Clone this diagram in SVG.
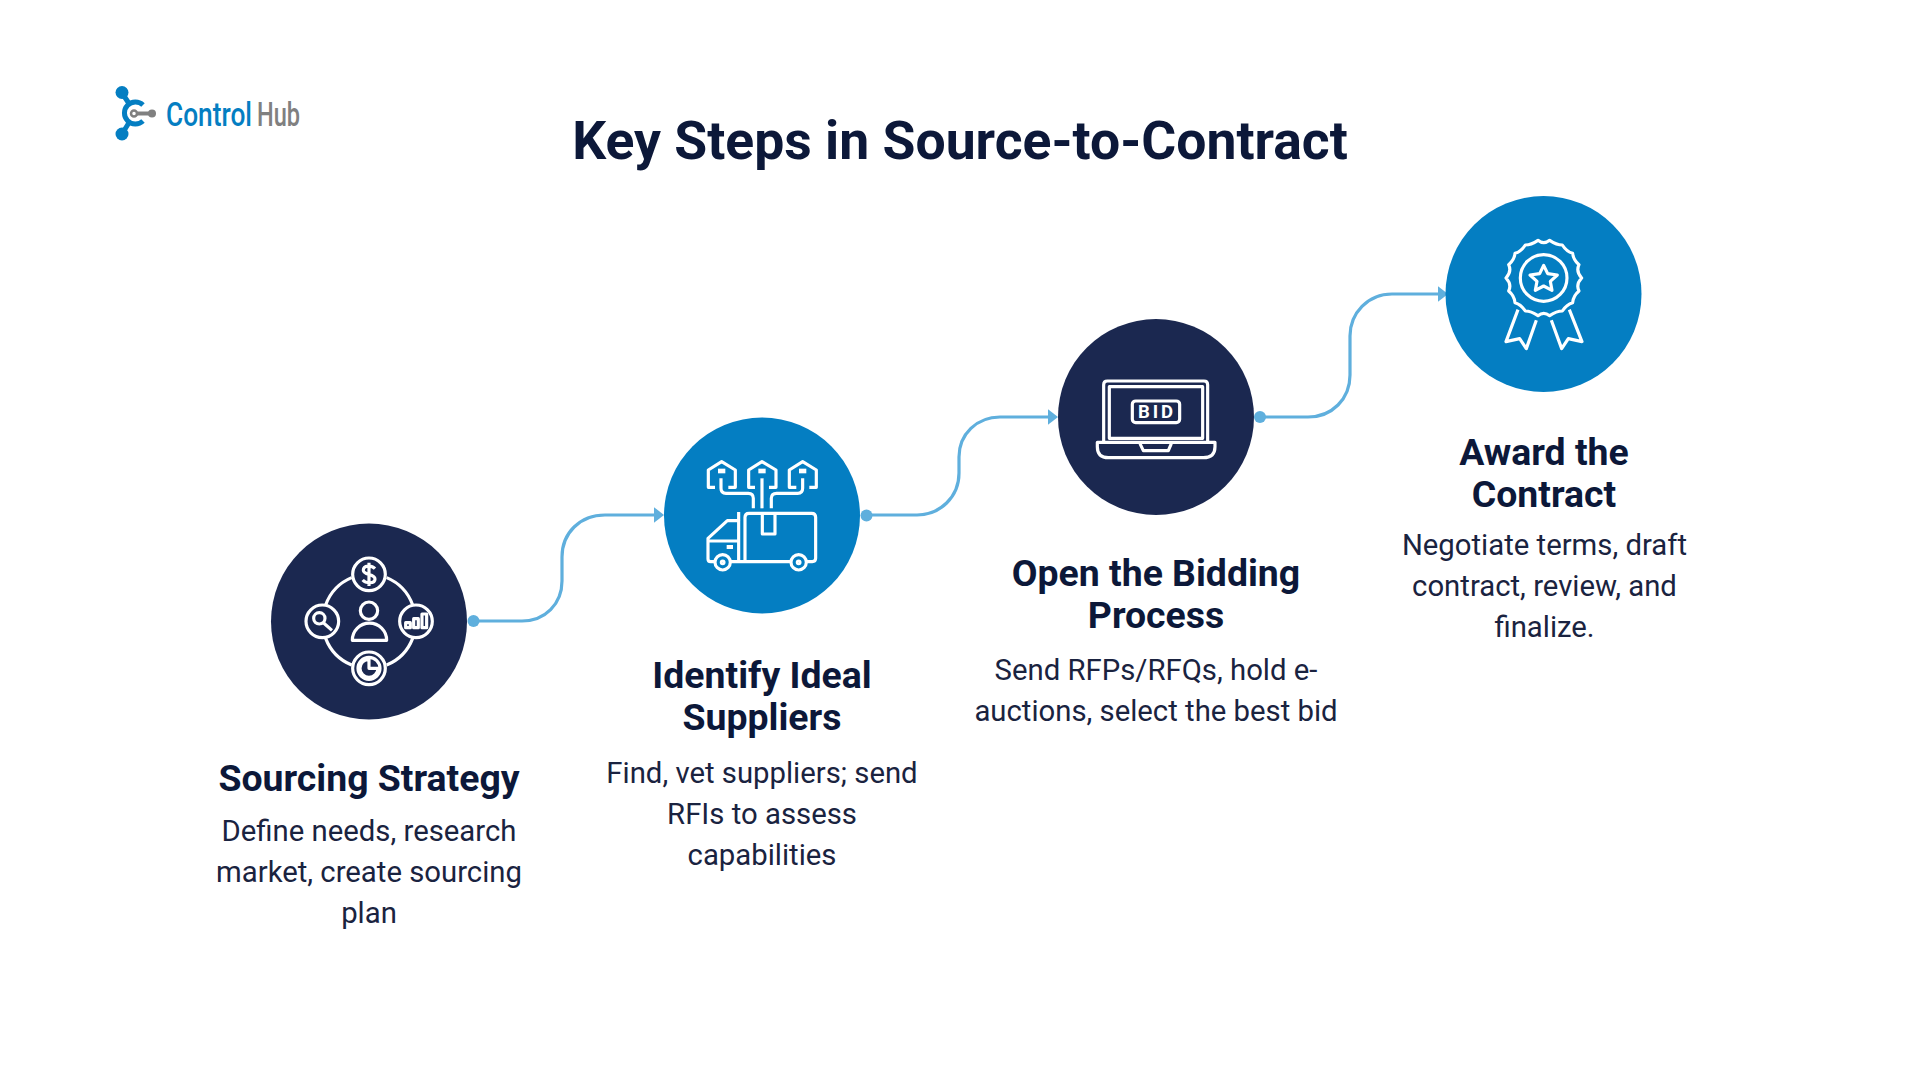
<svg xmlns="http://www.w3.org/2000/svg" width="1920" height="1080" viewBox="0 0 1920 1080">
<style>
text{font-family:Roboto,"Liberation Sans",sans-serif;text-anchor:middle;fill:#0c1839}
.t{font-size:53.500px;font-weight:700}
.h{font-size:37.400px;font-weight:700}
.b{font-size:29.300px;font-weight:400;fill:#1a2340}
.i{fill:none;stroke:#fff;stroke-width:9.500;stroke-linejoin:round;stroke-linecap:butt}
.c{fill:none;stroke:#5fafdd;stroke-width:3.200}
.navy{fill:#1b2850}.blue{fill:#047ec2}
.d{fill:#5fafdd}
.l{text-anchor:start;font-size:34px;font-weight:500}
</style>
<defs><marker id="a" markerWidth="4" markerHeight="5" refX="1" refY="2.500" orient="auto"><path d="M0 0L3.200 2.500L0 5z" fill="#5fafdd"/></marker></defs>
<g id="logo">
<g fill="none" stroke="#047ec2" stroke-width="5"><path d="M143 105A11 11 0 1 0 143 121"/><path d="M122 93L130 105M122 134L130 121"/></g>
<circle cx="122" cy="92.500" r="6.500" fill="#047ec2"/><circle cx="122" cy="134" r="6.500" fill="#047ec2"/>
<path d="M133 113.500H152" stroke="#808080" stroke-width="4"/><circle cx="152" cy="113.500" r="4" fill="#808080"/><circle cx="134" cy="113.500" r="3" fill="#fff" stroke="#808080" stroke-width="2.500"/>
<text class="l" x="166" y="126" textLength="86" lengthAdjust="spacingAndGlyphs" style="fill:#047ec2">Control</text>
<text class="l" x="257" y="126" textLength="43" lengthAdjust="spacingAndGlyphs" style="fill:#808080">Hub</text>
</g>
<text class="t" x="960" y="159">Key Steps in Source-to-Contract</text>
<g id="connectors">
<path class="c" marker-end="url(#a)" d="M473 621H522C545 621 562 604 562 581V557C562 533 580 515 605 515H657"/>
<path class="c" marker-end="url(#a)" d="M866 515H917C940 515 959 497 959 473V457C959 434 977 417 1000 417H1051"/>
<path class="c" marker-end="url(#a)" d="M1260 417H1308C1332 417 1350 399 1350 375V336C1350 313 1368 294 1392 294H1441"/>
<circle class="d" cx="473.500" cy="621" r="6"/><circle class="d" cx="866.500" cy="515.500" r="6"/><circle class="d" cx="1260" cy="417" r="6"/>
</g>
<g id="node1">
<circle class="navy" cx="369" cy="621.500" r="98"/>
<g class="i" transform="translate(260 510) scale(.3333)">
<circle cx="327" cy="193" r="49"/><circle cx="187" cy="334" r="49"/><circle cx="468" cy="334" r="49"/><circle cx="327" cy="475" r="49"/><circle cx="327" cy="475" r="33"/>
<path d="M275 203A141 141 0 0 0 197 285M380 203A141 141 0 0 1 458 285M197 385A141 141 0 0 0 275 465M458 385A141 141 0 0 1 380 465"/>
<circle cx="327" cy="302" r="26"/><path d="M277 391A50 50 0 0 1 380 391Z"/>
<path d="M345 176C335 165 310 165 310 181C310 197 345 190 345 207C345 222 318 221 308 210M327 158V228"/>
<circle cx="178" cy="325" r="17"/><path d="M191 339L216 361"/>
<path d="M327 448A27 27 0 1 0 354 475H327Z"/>
<rect x="437" y="338" width="14" height="15"/><rect x="461" y="326" width="14" height="27"/><rect x="486" y="312" width="14" height="41"/>
</g>
</g>
<g id="node2">
<circle class="blue" cx="762" cy="515.500" r="98"/>
<g class="i" transform="translate(650 410) scale(.3333)">
<path d="M195 232H175V180L215 155L256 180V232H235"/><path d="M204 183H226" stroke-width="14"/>
<path d="M315 232H296V180L336 155L378 180V232H357"/><path d="M325 183H347" stroke-width="14"/>
<path d="M439 232H418V180L458 155L499 180V232H478"/><path d="M447 183H469" stroke-width="14"/>
<path d="M213 205V235Q213 250 228 250H295Q310 250 310 265V295"/>
<path d="M336 205V295"/><path d="M458 205V235Q458 250 443 250H380Q364 250 364 265V295"/>
<path d="M285 455V322Q285 310 297 310H485Q497 310 497 322V445Q497 455 487 455H470M423 455H242M196 455H182Q174 455 174 447V385L232 332H266V455M174 393H266"/>
<path d="M337 310V372H375V310M266 306V332"/>
<circle cx="218" cy="457" r="23"/><circle cx="446" cy="457" r="23"/><circle cx="218" cy="457" r="4"/><circle cx="446" cy="457" r="4"/>
<path d="M230 411H249" stroke-width="12"/>
</g>
</g>
<g id="node3">
<circle class="navy" cx="1156" cy="417" r="98"/>
<g class="i" transform="translate(1050 310) scale(.3333)">
<path d="M161 397V224Q161 213 172 213H462Q473 213 473 224V397"/><path d="M178 385V230H458V385Z"/>
<rect x="247" y="273" width="142" height="65" rx="10"/>
<path d="M142 397H495V410Q495 443 460 443H175Q142 443 142 410Z"/><path d="M270 401L280 422H355L364 401"/>
</g>
<text x="1157" y="418" style="font-size:18.500px;font-weight:700;fill:#fff;letter-spacing:3px">BID</text>
</g>
<g id="node4">
<circle class="blue" cx="1543.500" cy="294" r="98"/>
<g class="i" transform="translate(1440 190) scale(.3333)">
<path d="M294 151Q311 165 329 151Q350 165 367 165Q380 185 398 190Q400 210 417 224Q407 245 425 264Q407 283 417 303Q400 317 398 338Q380 343 367 363Q350 363 329 377Q311 363 294 377Q273 363 256 363Q243 343 225 338Q223 317 206 303Q216 283 198 264Q216 245 206 224Q223 210 225 190Q243 185 256 165Q273 165 294 151Z"/>
<circle cx="311" cy="264" r="70"/>
<path d="M311 226L323 251L352 255L331 274L336 301L311 288L286 301L291 274L270 255L299 251Z"/>
<path d="M234 359L198 455L239 446L259 476L289 391M388 359L426 455L385 446L365 476L334 391"/>
</g>
</g>
<g id="labels">
<text class="h" x="369" y="791">Sourcing Strategy</text>
<text class="b" x="369" y="841">Define needs, research</text><text class="b" x="369" y="882">market, create sourcing</text><text class="b" x="369" y="923">plan</text>
<text class="h" x="762" y="688">Identify Ideal</text><text class="h" x="762" y="730">Suppliers</text>
<text class="b" x="762" y="783">Find, vet suppliers; send</text><text class="b" x="762" y="824">RFIs to assess</text><text class="b" x="762" y="865">capabilities</text>
<text class="h" x="1156" y="586">Open the Bidding</text><text class="h" x="1156" y="628">Process</text>
<text class="b" x="1156" y="680">Send RFPs/RFQs, hold e-</text><text class="b" x="1156" y="721">auctions, select the best bid</text>
<text class="h" x="1544" y="465">Award the</text><text class="h" x="1544" y="507">Contract</text>
<text class="b" x="1544.500" y="555">Negotiate terms, draft</text><text class="b" x="1544.500" y="596">contract, review, and</text><text class="b" x="1544.500" y="637">finalize.</text>
</g>
</svg>
